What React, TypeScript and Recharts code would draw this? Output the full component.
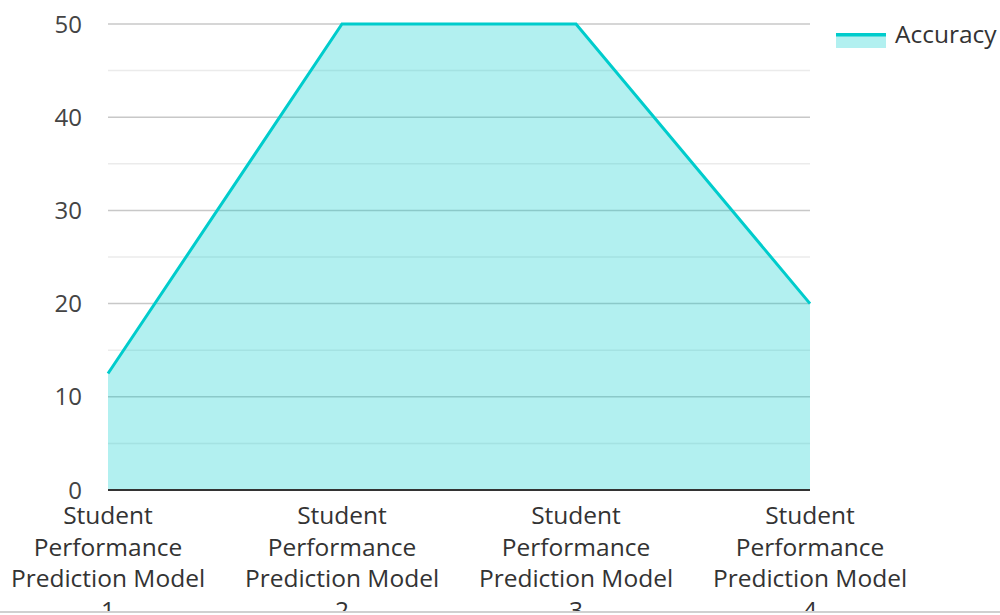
import {
  AreaChart, Area, XAxis, YAxis, CartesianGrid, Legend,
} from 'recharts';

const categories = [
  'Student Performance Prediction Model 1',
  'Student Performance Prediction Model 2',
  'Student Performance Prediction Model 3',
  'Student Performance Prediction Model 4',
];
const accuracy = [12.5, 50, 50, 20];
const yTicks = [0, 10, 20, 30, 40, 50];
const minorLines = [5, 15, 25, 35, 45];
const majorLines = [10, 20, 30, 40, 50];

const FONT = '"Open Sans", sans-serif';
const LINE = '#00cccc';

const data = categories.map((name, i) => ({ name, accuracy: accuracy[i] }));

// break words into lines of at most 16 chars
const wrap = (label: string) => {
  const lines: string[] = [];
  let cur = '';
  label.split(' ').forEach((w) => {
    const next = cur ? `${cur} ${w}` : w;
    if (next.length > 16 && cur) {
      lines.push(cur);
      cur = w;
    } else {
      cur = next;
    }
  });
  if (cur) lines.push(cur);
  return lines;
};

const XTick = ({ x, y, payload }: any) => (
  <text x={x} y={y} textAnchor="middle" fill="#333" fontSize={24.5} fontFamily={FONT}>
    {wrap(payload.value).map((line, i) => (
      <tspan key={i} x={x} dy={i === 0 ? 26 : 31.5}>{line}</tspan>
    ))}
  </text>
);

const LegendContent = () => (
  <div style={{ display: 'flex', alignItems: 'flex-start', fontFamily: FONT, fontSize: 24.5, color: '#333' }}>
    <svg width={50} height={15} style={{ marginRight: 9, marginTop: 16 }}>
      <rect x={0} y={0} width={50} height={15} fill={LINE} fillOpacity={0.3} />
      <rect x={0} y={0} width={50} height={3.5} fill={LINE} />
    </svg>
    <span>Accuracy</span>
  </div>
);

export default function App() {
  return (
    <div style={{ width: 1000, height: 611, overflow: 'hidden', borderBottom: '2px solid #d0d0d0', background: '#fff' }}>
      <style>{'body{margin:0}'}</style>
      <AreaChart
        width={1000}
        height={611}
        data={data}
        margin={{ top: 24, right: 26, bottom: 0, left: 0 }}
      >
        <CartesianGrid vertical={false} horizontalValues={minorLines} stroke="#ebebeb" strokeWidth={1.5} />
        <CartesianGrid vertical={false} horizontalValues={majorLines} stroke="#c8c8c8" strokeWidth={1.5} />
        <XAxis
          dataKey="name"
          height={121}
          axisLine={{ stroke: '#333', strokeWidth: 2 }}
          tickLine={false}
          tick={<XTick />}
          interval={0}
        />
        <YAxis
          domain={[0, 50]}
          ticks={yTicks}
          width={108}
          axisLine={false}
          tickLine={false}
          tickMargin={20}
          tick={{ fill: '#444', fontSize: 24, fontFamily: FONT }}
        />
        <Legend
          layout="vertical"
          align="right"
          verticalAlign="top"
          width={164}
          content={<LegendContent />}
          wrapperStyle={{ top: 17, left: 836, right: 'auto' }}
        />
        <Area
          type="linear"
          dataKey="accuracy"
          name="Accuracy"
          stroke={LINE}
          strokeWidth={3}
          fill={LINE}
          fillOpacity={0.3}
          isAnimationActive={false}
        />
      </AreaChart>
    </div>
  );
}
